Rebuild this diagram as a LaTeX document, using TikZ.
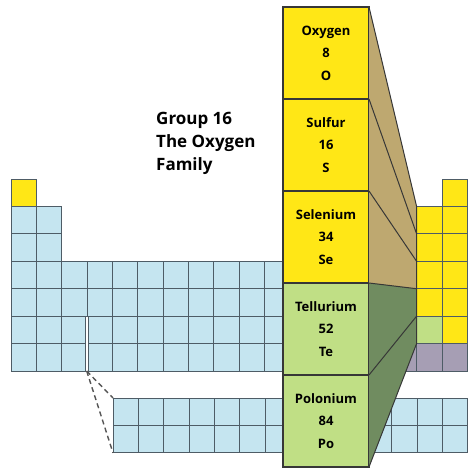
\documentclass[tikz,border=0pt]{standalone}
\usepackage{fontspec}
\setmainfont{Open Sans}

\definecolor{cellblue}{RGB}{197,229,240}
\definecolor{nonmetal}{RGB}{255,231,22}
\definecolor{metalloid}{RGB}{192,223,133}
\definecolor{unknown}{RGB}{166,158,180}
\definecolor{fantan}{RGB}{190,168,112}
\definecolor{fangreen}{RGB}{112,140,96}
\definecolor{gridline}{RGB}{78,92,102}
\definecolor{boxline}{RGB}{55,55,55}

\tikzset{
  cell/.style={draw=gridline, line width=0.9pt, minimum width=25.35pt,
    minimum height=27.43pt, inner sep=0pt, outer sep=0pt, anchor=north west},
  bigcell/.style={draw=boxline, line width=1.2pt, minimum width=86pt,
    minimum height=92pt, inner sep=0pt, outer sep=0pt, anchor=north west,
    align=center, font=\bfseries\fontsize{13}{22.5}\selectfont},
  fanline/.style={draw=boxline, line width=1pt},
}

\begin{document}
\begin{tikzpicture}[x=1pt,y=-1pt]
\useasboundingbox (0,0) rectangle (474,474);

% main table
\node[cell, fill=nonmetal] (p-1-1) at (11,179) {};
\foreach \r in {2,...,7}
  \foreach \c in {1,2}
    \node[cell, fill=cellblue] (p-\r-\c) at ({11+(\c-1)*25.35},{179+(\r-1)*27.43}) {};
\foreach \r in {4,...,7}
  \foreach \c in {3,...,15}
    \node[cell, fill=cellblue] (p-\r-\c) at ({11+(\c-1)*25.35},{179+(\r-1)*27.43}) {};
\foreach \r/\c/\shade in {1/18/nonmetal,
    2/16/nonmetal, 3/16/nonmetal, 4/16/nonmetal, 5/16/metalloid, 6/16/metalloid, 7/16/unknown,
    2/17/nonmetal, 3/17/nonmetal, 4/17/nonmetal, 5/17/nonmetal, 6/17/metalloid, 7/17/unknown,
    2/18/nonmetal, 3/18/nonmetal, 4/18/nonmetal, 5/18/nonmetal, 6/18/nonmetal, 7/18/unknown}
  \node[cell, fill=\shade] (p-\r-\c) at ({11+(\c-1)*25.35},{179+(\r-1)*27.43}) {};

% break for the f-block
\node[draw=gridline, line width=0.6pt, fill=white, minimum width=3pt,
  minimum height=54.86pt, inner sep=0pt, outer sep=0pt] (gap) at (86.7,343.6) {};

% f-block
\foreach \r in {1,2}
  \foreach \c in {1,...,14}
    \node[cell, fill=cellblue] (f-\r-\c) at ({113+(\c-1)*25.35},{398+(\r-1)*27.43}) {};

\draw[boxline!85, line width=1.4pt, dash pattern=on 5pt off 3.5pt] (gap.south) -- (f-1-1.north west);
\draw[boxline!85, line width=1.4pt, dash pattern=on 5pt off 3.5pt] (gap.south) -- (f-2-1.south west);

% group 16 enlarged
\node[bigcell, fill=nonmetal] (oxy) at (283,7) {Oxygen\\8\\O};
\node[bigcell, fill=nonmetal] (sul) at (283,99) {Sulfur\\16\\S};
\node[bigcell, fill=nonmetal] (sel) at (283,191) {Selenium\\34\\Se};
\node[bigcell, fill=metalloid] (tel) at (283,283) {Tellurium\\52\\Te};
\node[bigcell, fill=metalloid] (pol) at (283,375) {Polonium\\84\\Po};

% fan to the small cells
\fill[fantan] (oxy.north east) -- (p-2-16.north east) -- (p-4-16.south east) -- (sel.south east) -- cycle;
\fill[fangreen] (sel.south east) -- (p-5-16.north east) -- (p-6-16.south east) -- (pol.south east) -- cycle;
\draw[fanline] (oxy.north east) -- (p-2-16.north east) -- (p-6-16.south east) -- (pol.south east);
\draw[fanline] (oxy.south east) -- (p-2-16.south east);
\draw[fanline] (sul.south east) -- (p-3-16.south east);
\draw[fanline] (sel.south east) -- (p-4-16.south east);
\draw[fanline] (tel.south east) -- (p-5-16.south east);

\node[anchor=north west, align=left, inner sep=0pt,
  font=\bfseries\fontsize{17}{23}\selectfont] (title) at (156,111.5)
  {Group 16\\The Oxygen\\Family};
\end{tikzpicture}
\end{document}
